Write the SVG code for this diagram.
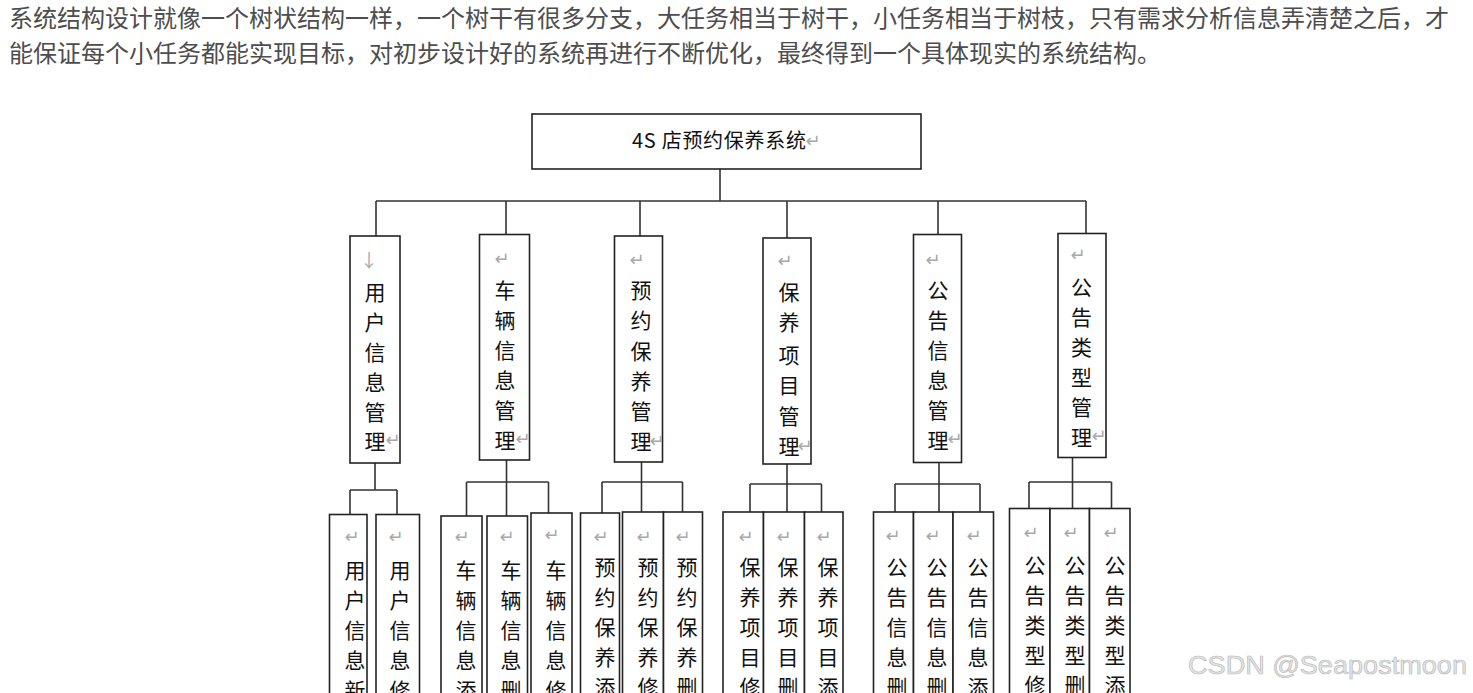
<svg xmlns="http://www.w3.org/2000/svg" width="1473" height="693" viewBox="0 0 1473 693">
<style>
.para{font-family:"Noto Sans CJK SC","Noto Sans",sans-serif;font-size:24px;fill:#4d4d4d}
.box{fill:#fff;stroke:#222;stroke-width:1.6}
.ln{fill:none;stroke:#333;stroke-width:1.6}
.t{font-family:"Noto Sans CJK SC",sans-serif;font-size:21px;fill:#111;text-anchor:middle}
.rt{font-family:"Noto Sans CJK SC",sans-serif;font-size:20px;fill:#111}
.m{font-family:"Noto Sans CJK SC","DejaVu Sans",sans-serif;font-size:18px;fill:#a8a8a8;text-anchor:middle}
.wm{font-family:"Liberation Sans",Arial,sans-serif;font-size:25px;fill:#e4e4e4;stroke:#b8b8b8;stroke-width:0.6}
</style>
<rect width="1473" height="693" fill="#fff"/>
<g id="paragraph">
<text class="para" x="9" y="27" textLength="1440" lengthAdjust="spacingAndGlyphs">系统结构设计就像一个树状结构一样，一个树干有很多分支，大任务相当于树干，小任务相当于树枝，只有需求分析信息弄清楚之后，才</text>
<text class="para" x="9" y="62" textLength="1152" lengthAdjust="spacingAndGlyphs">能保证每个小任务都能实现目标，对初步设计好的系统再进行不断优化，最终得到一个具体现实的系统结构。</text>
</g>
<g id="connectors">
<path class="ln" d="M720 169V201M376 201H1086M376 201V236M506 201V234M640 201V236M787 201V238M938 201V234M1086 201V233"/>
<path class="ln" d="M375 463V490M350 490H397M350 490V514M397 490V514"/>
<path class="ln" d="M506.5 460V482M466.5 482H548.5M466.5 482V516M506.5 482V516M548.5 482V513"/>
<path class="ln" d="M641.5 462V482M602 482H682.5M602 482V513M641.5 482V512M682.5 482V512"/>
<path class="ln" d="M787 464V484M750 484H821.5M750 484V512M787 484V512M821.5 484V512"/>
<path class="ln" d="M939 462V484M895 484H980M895 484V512M939 484V512M980 484V512"/>
<path class="ln" d="M1072.5 458V482M1029 482H1111.5M1029 482V508M1072.5 482V508M1111.5 482V508"/>
</g>
<g id="root">
<rect class="box" x="532" y="114" width="389" height="55"/>
<text class="rt" x="632" y="148" textLength="174" lengthAdjust="spacing">4S 店预约保养系统</text>
<text class="m" x="813" y="147">↵</text>
</g>
<g id="n1">
<rect class="box" x="350" y="236" width="50" height="227"/>
<text class="m" x="369" y="267">↓</text>
<text class="t"><tspan x="375" y="300">用</tspan><tspan x="375" y="330">户</tspan><tspan x="375" y="360">信</tspan><tspan x="375" y="390">息</tspan><tspan x="375" y="420">管</tspan><tspan x="375" y="449">理</tspan></text>
<text class="m" x="393" y="446">↵</text>
</g>
<g id="n2">
<rect class="box" x="479.5" y="234.5" width="50" height="225.5"/>
<text class="m" x="502" y="265">↵</text>
<text class="t"><tspan x="505" y="298">车</tspan><tspan x="505" y="328">辆</tspan><tspan x="505" y="358">信</tspan><tspan x="505" y="388">息</tspan><tspan x="505" y="418">管</tspan><tspan x="505" y="448">理</tspan></text>
<text class="m" x="523" y="445">↵</text>
</g>
<g id="n3">
<rect class="box" x="614.5" y="236" width="48" height="226"/>
<text class="m" x="637" y="266">↵</text>
<text class="t"><tspan x="641" y="298">预</tspan><tspan x="641" y="328">约</tspan><tspan x="641" y="359">保</tspan><tspan x="641" y="389">养</tspan><tspan x="641" y="419">管</tspan><tspan x="641" y="449">理</tspan></text>
<text class="m" x="657" y="447">↵</text>
</g>
<g id="n4">
<rect class="box" x="763" y="238" width="48" height="226"/>
<text class="m" x="785" y="267">↵</text>
<text class="t"><tspan x="789" y="300">保</tspan><tspan x="789" y="330">养</tspan><tspan x="789" y="363">项</tspan><tspan x="789" y="393">目</tspan><tspan x="789" y="424">管</tspan><tspan x="789" y="454">理</tspan></text>
<text class="m" x="805" y="452">↵</text>
</g>
<g id="n5">
<rect class="box" x="913.5" y="234.5" width="48" height="228"/>
<text class="m" x="933" y="266">↵</text>
<text class="t"><tspan x="938" y="298">公</tspan><tspan x="938" y="328">告</tspan><tspan x="938" y="358">信</tspan><tspan x="938" y="388">息</tspan><tspan x="938" y="418">管</tspan><tspan x="938" y="448">理</tspan></text>
<text class="m" x="955" y="445">↵</text>
</g>
<g id="n6">
<rect class="box" x="1058" y="233.5" width="48" height="224"/>
<text class="m" x="1078" y="261">↵</text>
<text class="t"><tspan x="1081.5" y="294.5">公</tspan><tspan x="1081.5" y="324.5">告</tspan><tspan x="1081.5" y="354.5">类</tspan><tspan x="1081.5" y="384.5">型</tspan><tspan x="1081.5" y="414.5">管</tspan><tspan x="1081.5" y="444.5">理</tspan></text>
<text class="m" x="1099" y="442">↵</text>
</g>
<g id="n1a"><rect class="box" x="329.5" y="514.5" width="37.5" height="200"/><text class="m" x="352" y="543">↵</text>
<text class="t"><tspan x="355" y="578">用</tspan><tspan x="355" y="608">户</tspan><tspan x="355" y="638">信</tspan><tspan x="355" y="668">息</tspan><tspan x="355" y="698">新</tspan></text></g>
<g id="n1b"><rect class="box" x="376" y="514.5" width="43.5" height="200"/><text class="m" x="396" y="543">↵</text>
<text class="t"><tspan x="400" y="578">用</tspan><tspan x="400" y="608">户</tspan><tspan x="400" y="638">信</tspan><tspan x="400" y="668">息</tspan><tspan x="400" y="698">修</tspan></text></g>
<g id="n2a"><rect class="box" x="441" y="516" width="41" height="200"/><text class="m" x="462" y="543">↵</text>
<text class="t"><tspan x="466" y="578">车</tspan><tspan x="466" y="608">辆</tspan><tspan x="466" y="638">信</tspan><tspan x="466" y="668">息</tspan><tspan x="466" y="698">添</tspan></text></g>
<g id="n2b"><rect class="box" x="487" y="516" width="40.5" height="200"/><text class="m" x="507" y="543">↵</text>
<text class="t"><tspan x="511" y="578">车</tspan><tspan x="511" y="608">辆</tspan><tspan x="511" y="638">信</tspan><tspan x="511" y="668">息</tspan><tspan x="511" y="698">删</tspan></text></g>
<g id="n2c"><rect class="box" x="531" y="513" width="41" height="200"/><text class="m" x="552" y="541">↵</text>
<text class="t"><tspan x="556" y="578">车</tspan><tspan x="556" y="608">辆</tspan><tspan x="556" y="638">信</tspan><tspan x="556" y="668">息</tspan><tspan x="556" y="698">修</tspan></text></g>
<g id="n3a"><rect class="box" x="580.5" y="513" width="39" height="200"/><text class="m" x="601" y="543">↵</text>
<text class="t"><tspan x="605" y="575">预</tspan><tspan x="605" y="605">约</tspan><tspan x="605" y="635">保</tspan><tspan x="605" y="665">养</tspan><tspan x="605" y="695">添</tspan></text></g>
<g id="n3b"><rect class="box" x="622.5" y="512" width="41" height="200"/><text class="m" x="644" y="543">↵</text>
<text class="t"><tspan x="648" y="575">预</tspan><tspan x="648" y="605">约</tspan><tspan x="648" y="635">保</tspan><tspan x="648" y="665">养</tspan><tspan x="648" y="695">修</tspan></text></g>
<g id="n3c"><rect class="box" x="663.5" y="512" width="39" height="200"/><text class="m" x="683" y="543">↵</text>
<text class="t"><tspan x="687" y="575">预</tspan><tspan x="687" y="605">约</tspan><tspan x="687" y="635">保</tspan><tspan x="687" y="665">养</tspan><tspan x="687" y="695">删</tspan></text></g>
<g id="n4a"><rect class="box" x="723" y="512" width="40.5" height="200"/><text class="m" x="746" y="543">↵</text>
<text class="t"><tspan x="750" y="575">保</tspan><tspan x="750" y="605">养</tspan><tspan x="750" y="635">项</tspan><tspan x="750" y="665">目</tspan><tspan x="750" y="695">修</tspan></text></g>
<g id="n4b"><rect class="box" x="763.5" y="512" width="41" height="200"/><text class="m" x="784" y="543">↵</text>
<text class="t"><tspan x="788" y="575">保</tspan><tspan x="788" y="605">养</tspan><tspan x="788" y="635">项</tspan><tspan x="788" y="665">目</tspan><tspan x="788" y="695">删</tspan></text></g>
<g id="n4c"><rect class="box" x="804.5" y="512" width="38.5" height="200"/><text class="m" x="824" y="543">↵</text>
<text class="t"><tspan x="828" y="575">保</tspan><tspan x="828" y="605">养</tspan><tspan x="828" y="635">项</tspan><tspan x="828" y="665">目</tspan><tspan x="828" y="695">添</tspan></text></g>
<g id="n5a"><rect class="box" x="873.5" y="512" width="40" height="200"/><text class="m" x="893" y="542">↵</text>
<text class="t"><tspan x="897" y="575">公</tspan><tspan x="897" y="605">告</tspan><tspan x="897" y="635">信</tspan><tspan x="897" y="665">息</tspan><tspan x="897" y="695">删</tspan></text></g>
<g id="n5b"><rect class="box" x="913.5" y="512" width="39.5" height="200"/><text class="m" x="933" y="542">↵</text>
<text class="t"><tspan x="937" y="575">公</tspan><tspan x="937" y="605">告</tspan><tspan x="937" y="635">信</tspan><tspan x="937" y="665">息</tspan><tspan x="937" y="695">删</tspan></text></g>
<g id="n5c"><rect class="box" x="953" y="512" width="40.5" height="200"/><text class="m" x="974" y="542">↵</text>
<text class="t"><tspan x="978" y="575">公</tspan><tspan x="978" y="605">告</tspan><tspan x="978" y="635">信</tspan><tspan x="978" y="665">息</tspan><tspan x="978" y="695">添</tspan></text></g>
<g id="n6a"><rect class="box" x="1009.5" y="508.5" width="40.5" height="200"/><text class="m" x="1031" y="539">↵</text>
<text class="t"><tspan x="1035" y="573">公</tspan><tspan x="1035" y="603">告</tspan><tspan x="1035" y="633">类</tspan><tspan x="1035" y="663">型</tspan><tspan x="1035" y="693">修</tspan></text></g>
<g id="n6b"><rect class="box" x="1050" y="508.5" width="39.5" height="200"/><text class="m" x="1071" y="539">↵</text>
<text class="t"><tspan x="1075" y="573">公</tspan><tspan x="1075" y="603">告</tspan><tspan x="1075" y="633">类</tspan><tspan x="1075" y="663">型</tspan><tspan x="1075" y="693">删</tspan></text></g>
<g id="n6c"><rect class="box" x="1089.5" y="508.5" width="40.5" height="200"/><text class="m" x="1111" y="539">↵</text>
<text class="t"><tspan x="1115" y="573">公</tspan><tspan x="1115" y="603">告</tspan><tspan x="1115" y="633">类</tspan><tspan x="1115" y="663">型</tspan><tspan x="1115" y="693">添</tspan></text></g>
<g id="watermark">
<text class="wm" x="1188" y="674" textLength="279" lengthAdjust="spacingAndGlyphs">CSDN @Seapostmoon</text>
</g>
</svg>
